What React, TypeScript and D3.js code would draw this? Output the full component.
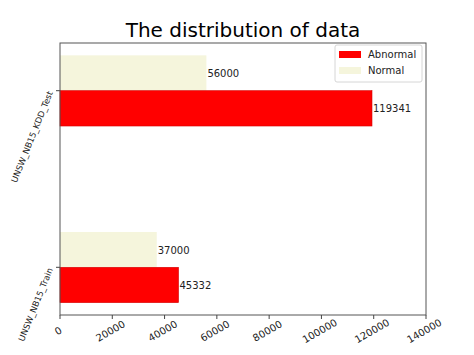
import React from "react";
import * as d3 from "d3";

const categories = ["UNSW_NB15_Train", "UNSW_NB15_KDD_Test"];
const abnormal = [45332, 119341];
const normal = [37000, 56000];
const xTicks = [0, 20000, 40000, 60000, 80000, 100000, 120000, 140000];
const seriesNames = ["Abnormal", "Normal"];
const seriesColors = ["#ff0000", "#f5f5dc"];

export default function App() {
  const W = 474, H = 355;
  const left = 60, right = 426, top = 43, bottom = 315;
  const x = d3.scaleLinear().domain([0, 140000]).range([left, right]);
  const y = d3.scaleLinear().domain([-0.27, 1.27]).range([bottom, top]);
  const bw = 0.2;
  const font = "DejaVu Sans, sans-serif";
  return (
    <svg width={W} height={H} style={{ position: "absolute", left: 0, top: 0 }} fontFamily={font}>
      <rect x={0} y={0} width={W} height={H} fill="#fff" />
      <text x={(left + right) / 2} y={37} textAnchor="middle" fontSize={20} fill="#000">
        The distribution of data
      </text>
      {categories.map((c, i) => (
        <g key={c}>
          <rect x={x(0)} y={y(i + bw)} width={x(normal[i]) - x(0)} height={y(i) - y(i + bw)} fill={seriesColors[1]} />
          <rect x={x(0)} y={y(i)} width={x(abnormal[i]) - x(0)} height={y(i - bw) - y(i)} fill={seriesColors[0]} stroke="#d40000" strokeWidth={0.6} />
          <text x={x(normal[i]) + 1} y={y(i + bw / 2) + 4} fontSize={10} fill="#222">{normal[i]}</text>
          <text x={x(abnormal[i]) + 1} y={y(i - bw / 2) + 4} fontSize={10} fill="#222">{abnormal[i]}</text>
          <line x1={left - 4} x2={left} y1={y(i)} y2={y(i)} stroke="#444" />
          <text transform={`translate(${left - 7},${y(i) + 2}) rotate(-68)`} textAnchor="end" fontSize={8.5} fill="#222">{c}</text>
        </g>
      ))}
      <rect x={left} y={top} width={right - left} height={bottom - top} fill="none" stroke="#555" strokeWidth={1} />
      {xTicks.map((t) => (
        <g key={t}>
          <line x1={x(t)} x2={x(t)} y1={bottom} y2={bottom + 4} stroke="#444" />
          <text transform={`translate(${x(t)},${bottom + 19}) rotate(-30)`} textAnchor="middle" fontSize={10} fill="#222">{t}</text>
        </g>
      ))}
      <g>
        <rect x={335} y={45} width={87} height={37} fill="#fff" stroke="#ccc" strokeWidth={0.8} rx={2} />
        {seriesNames.map((s, i) => (
          <g key={s}>
            <rect x={339} y={51 + i * 16} width={22} height={7} fill={seriesColors[i]} />
            <text x={368} y={58 + i * 16} fontSize={10} fill="#222">{s}</text>
          </g>
        ))}
      </g>
    </svg>
  );
}
